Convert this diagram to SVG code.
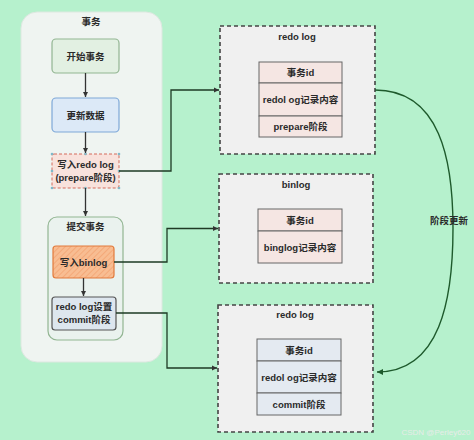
<svg xmlns="http://www.w3.org/2000/svg" width="474" height="440" viewBox="0 0 474 440">
<style>
text{font-family:"Liberation Sans","Noto Sans CJK SC",sans-serif;font-weight:bold;fill:#2a2a2a;text-anchor:middle;font-size:9.5px}
.panel{fill:#f0f0f0;stroke:#444;stroke-width:1.6;stroke-dasharray:4 3}
.cell{stroke:#666;stroke-width:1}
.pink{fill:#f5e6e3}
.blue{fill:#e4eaf1}
.flow{fill:none;stroke:#333;stroke-width:1.3}
.link{fill:none;stroke:#1e3a24;stroke-width:1.3}
.handle{fill:#7fb9c9}
</style>
<defs>
<marker id="ah" markerWidth="6" markerHeight="6" refX="5" refY="3" orient="auto" markerUnits="userSpaceOnUse">
<path d="M0,0.5 L5,3 L0,5.5 z" fill="#333"/>
</marker>
<marker id="ahg" markerWidth="7" markerHeight="7" refX="6" refY="3.5" orient="auto" markerUnits="userSpaceOnUse">
<path d="M0,0.5 L6,3.5 L0,6.5 z" fill="#1e5a2c"/>
</marker>
<pattern id="hatch" width="4" height="4" patternUnits="userSpaceOnUse" patternTransform="rotate(45)">
<rect width="4" height="4" fill="#f8bd92"/>
<line x1="0" y1="0" x2="0" y2="4" stroke="#f3a270" stroke-width="1.5"/>
</pattern>
</defs>
<rect width="474" height="440" fill="#b6f1cd"/>

<g id="tx">
<rect x="21" y="12" width="141" height="350" rx="16" fill="#eff4f1" stroke="#dde8e0" stroke-width="1"/>
<text x="91" y="25">事务</text>
</g>

<g id="start">
<rect x="52" y="39" width="67" height="34" rx="4" fill="#e2f0e2" stroke="#92b592" stroke-width="1.2"/>
<text x="85.5" y="60">开始事务</text>
</g>

<g id="update">
<rect x="52" y="98" width="67" height="34" rx="4" fill="#dce9f7" stroke="#7ea8d8" stroke-width="1.2"/>
<text x="85.5" y="119">更新数据</text>
</g>

<g id="writeredo">
<rect x="52" y="154" width="67" height="34" rx="2" fill="#f8e2dc" stroke="#d46a5a" stroke-width="1" stroke-dasharray="3 2"/>
<text x="85.5" y="168">写入redo log</text>
<text x="85.5" y="181">(prepare阶段)</text>
<circle class="handle" cx="52" cy="154" r="1.3"/><circle class="handle" cx="85.5" cy="154" r="1.3"/><circle class="handle" cx="119" cy="154" r="1.3"/>
<circle class="handle" cx="52" cy="171" r="1.3"/><circle class="handle" cx="119" cy="171" r="1.3"/>
<circle class="handle" cx="52" cy="188" r="1.3"/><circle class="handle" cx="85.5" cy="188" r="1.3"/><circle class="handle" cx="119" cy="188" r="1.3"/>
</g>

<g id="commit">
<rect x="48" y="217" width="75" height="123" rx="9" fill="#eaf2ee" stroke="#92b592" stroke-width="1.2"/>
<text x="85.5" y="230">提交事务</text>
</g>

<g id="writebinlog">
<rect x="53" y="246" width="61" height="32" rx="3" fill="url(#hatch)" stroke="#e27b3c" stroke-width="1.2"/>
<text x="83.5" y="265.5">写入binlog</text>
</g>

<g id="setcommit">
<rect x="52" y="297" width="64" height="33" rx="3" fill="#dde6ee" stroke="#555" stroke-width="1.2"/>
<text x="84" y="310">redo log设置</text>
<text x="84" y="323">commit阶段</text>
</g>

<g id="redolog1">
<rect class="panel" x="220" y="26" width="155" height="128"/>
<text x="297" y="40">redo log</text>
<rect class="cell pink" x="259" y="62" width="83" height="21"/>
<rect class="cell pink" x="259" y="83" width="83" height="33"/>
<rect class="cell pink" x="259" y="116" width="83" height="21"/>
<text x="300.5" y="76">事务id</text>
<text x="300.5" y="103">redol og记录内容</text>
<text x="300.5" y="130">prepare阶段</text>
</g>

<g id="binlog">
<rect class="panel" x="219" y="174" width="154" height="109"/>
<text x="296" y="188">binlog</text>
<rect class="cell pink" x="258" y="209" width="84" height="22"/>
<rect class="cell pink" x="258" y="231" width="84" height="32"/>
<text x="300" y="223.5">事务id</text>
<text x="300" y="250.5">binglog记录内容</text>
</g>

<g id="redolog2">
<rect class="panel" x="218" y="305" width="155" height="127"/>
<text x="295" y="318">redo log</text>
<rect class="cell blue" x="257" y="339" width="84" height="22"/>
<rect class="cell blue" x="257" y="361" width="84" height="32"/>
<rect class="cell blue" x="257" y="393" width="84" height="22"/>
<text x="299" y="353.5">事务id</text>
<text x="299" y="380.5">redol og记录内容</text>
<text x="299" y="407.5">commit阶段</text>
</g>

<g id="connectors">
<path class="flow" d="M85.5,73 V97" marker-end="url(#ah)"/>
<path class="flow" d="M85.5,132 V153" marker-end="url(#ah)"/>
<path class="flow" d="M85.5,188 V216" marker-end="url(#ah)"/>
<path class="flow" d="M83.5,278 V296" marker-end="url(#ah)"/>
<path class="link" d="M119,171 H171 V90 H219" marker-end="url(#ah)"/>
<path class="link" d="M114,262 H167 V228.5 H218" marker-end="url(#ah)"/>
<path class="link" d="M116,313 H167 V368 H217" marker-end="url(#ah)"/>
<path d="M375,90 C440,90 453,160 453,228 C453,300 440,372 377,372" fill="none" stroke="#1e5a2c" stroke-width="1.4" marker-end="url(#ahg)"/>
<text x="449" y="224" font-size="9.5">阶段更新</text>
</g>
<text x="436" y="435" style="font-weight:normal;fill:#e6ece8;font-size:8px">CSDN @Perley620</text>
</svg>
